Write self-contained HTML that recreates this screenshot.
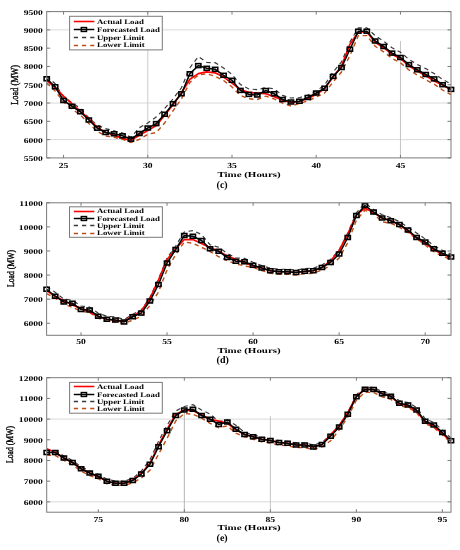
<!DOCTYPE html>
<html><head><meta charset="utf-8"><style>
html,body{margin:0;padding:0;background:#fff;width:460px;height:550px;overflow:hidden}
svg{display:block;text-rendering:geometricPrecision}
.t{font-family:"Liberation Serif",serif;font-weight:bold;font-size:7.3px;fill:#000}
.xl{font-family:"Liberation Serif",serif;font-weight:bold;font-size:7.6px;fill:#000}
.cap{font-family:"Liberation Serif",serif;font-weight:bold;font-size:10px;fill:#000}
.yl{font-family:"Liberation Serif",serif;font-size:8.3px;fill:#000;stroke:#000;stroke-width:0.3px}
.lg{font-family:"Liberation Serif",serif;font-weight:bold;font-size:6.9px;fill:#000}
</style></head><body>
<svg width="460" height="550" viewBox="0 0 460 550">
<rect width="460" height="550" fill="#fff"/>
<line x1="46.7" y1="29.89" x2="451.0" y2="29.89" stroke="#d9d9d9" stroke-width="1"/>
<line x1="46.7" y1="103.04" x2="451.0" y2="103.04" stroke="#d9d9d9" stroke-width="1"/>
<line x1="46.7" y1="139.61" x2="451.0" y2="139.61" stroke="#d9d9d9" stroke-width="1"/>
<line x1="147.78" y1="11.6" x2="147.78" y2="157.9" stroke="#cccccc" stroke-width="1"/>
<line x1="400.46" y1="41" x2="400.46" y2="157.9" stroke="#c4c4c4" stroke-width="1"/>
<polyline points="46.70,76.25 55.12,83.75 63.55,97.00 71.97,102.75 80.39,108.25 88.81,117.80 97.24,125.20 105.66,128.60 114.08,130.80 122.51,133.10 130.93,137.30 139.35,127.70 147.78,123.00 156.20,117.10 164.62,108.45 173.04,98.95 181.47,87.75 189.89,67.75 198.31,56.60 206.74,62.40 215.16,62.70 223.58,68.00 232.00,74.50 240.43,84.50 248.85,89.00 257.27,89.60 265.70,87.60 274.12,88.75 282.54,95.40 290.96,98.00 299.39,97.75 307.81,95.00 316.23,91.00 324.66,85.00 333.08,72.00 341.50,62.00 349.93,42.00 358.35,27.80 366.77,27.80 375.19,35.70 383.62,41.20 392.04,47.80 400.46,52.20 408.89,59.30 417.31,64.50 425.73,68.60 434.15,73.60 442.58,79.40 451.00,84.10" fill="none" stroke="#3a3a3a" stroke-width="1.2" stroke-dasharray="4.4,3.6"/>
<polyline points="46.70,82.85 55.12,90.95 63.55,102.00 71.97,109.05 80.39,115.05 88.81,123.50 97.24,131.30 105.66,136.00 114.08,137.30 122.51,139.30 130.93,142.50 139.35,139.40 147.78,134.25 156.20,132.50 164.62,123.00 173.04,110.75 181.47,98.75 189.89,82.50 198.31,75.00 206.74,73.80 215.16,76.30 223.58,80.50 232.00,87.00 240.43,95.50 248.85,98.80 257.27,99.50 265.70,96.20 274.12,98.95 282.54,103.00 290.96,106.00 299.39,103.50 307.81,101.00 316.23,97.00 324.66,93.00 333.08,82.00 341.50,72.00 349.93,55.60 358.35,35.60 366.77,35.60 375.19,46.30 383.62,51.80 392.04,58.40 400.46,62.80 408.89,69.90 417.31,75.10 425.73,79.80 434.15,84.20 442.58,90.00 451.00,94.70" fill="none" stroke="#bd4c17" stroke-width="1.4" stroke-dasharray="4.4,3.6"/>
<polyline points="46.70,80.25 55.12,87.65 63.55,96.20 71.97,103.95 80.39,111.05 88.81,118.90 97.24,127.40 105.66,132.50 114.08,135.10 122.51,138.50 130.93,140.40 139.35,135.20 147.78,130.50 156.20,125.60 164.62,115.25 173.04,104.75 181.47,92.75 189.89,79.25 198.31,73.60 206.74,71.80 215.16,72.80 223.58,77.10 232.00,83.10 240.43,89.90 248.85,92.40 257.27,93.20 265.70,93.70 274.12,96.65 282.54,100.00 290.96,102.60 299.39,101.50 307.81,98.50 316.23,94.50 324.66,88.50 333.08,77.00 341.50,66.00 349.93,44.30 358.35,32.00 366.77,32.00 375.19,42.20 383.62,47.70 392.04,54.30 400.46,58.70 408.89,65.80 417.31,71.00 425.73,75.70 434.15,80.90 442.58,84.90 451.00,89.80" fill="none" stroke="#ff0000" stroke-width="1.7" stroke-linejoin="round"/>
<polyline points="46.70,78.75 55.12,86.75 63.55,100.50 71.97,106.25 80.39,111.75 88.81,120.00 97.24,128.20 105.66,132.50 114.08,133.80 122.51,135.80 130.93,139.20 139.35,133.50 147.78,128.00 156.20,123.60 164.62,114.25 173.04,103.75 181.47,93.75 189.89,73.75 198.31,65.60 206.74,68.30 215.16,69.30 223.58,75.30 232.00,80.30 240.43,90.40 248.85,94.40 257.27,95.00 265.70,90.50 274.12,93.75 282.54,99.50 290.96,102.00 299.39,101.25 307.81,97.50 316.23,93.00 324.66,88.25 333.08,76.40 341.50,67.50 349.93,49.20 358.35,31.20 366.77,31.20 375.19,41.00 383.62,46.50 392.04,53.10 400.46,57.50 408.89,64.60 417.31,69.80 425.73,74.50 434.15,78.90 442.58,84.70 451.00,89.40" fill="none" stroke="#000" stroke-width="1.55"/>
<rect x="44.10" y="76.80" width="5.2" height="3.9" fill="none" stroke="#000" stroke-width="1.6"/>
<rect x="52.52" y="84.80" width="5.2" height="3.9" fill="none" stroke="#000" stroke-width="1.6"/>
<rect x="60.95" y="98.55" width="5.2" height="3.9" fill="none" stroke="#000" stroke-width="1.6"/>
<rect x="69.37" y="104.30" width="5.2" height="3.9" fill="none" stroke="#000" stroke-width="1.6"/>
<rect x="77.79" y="109.80" width="5.2" height="3.9" fill="none" stroke="#000" stroke-width="1.6"/>
<rect x="86.21" y="118.05" width="5.2" height="3.9" fill="none" stroke="#000" stroke-width="1.6"/>
<rect x="94.64" y="126.25" width="5.2" height="3.9" fill="none" stroke="#000" stroke-width="1.6"/>
<rect x="103.06" y="130.55" width="5.2" height="3.9" fill="none" stroke="#000" stroke-width="1.6"/>
<rect x="111.48" y="131.85" width="5.2" height="3.9" fill="none" stroke="#000" stroke-width="1.6"/>
<rect x="119.91" y="133.85" width="5.2" height="3.9" fill="none" stroke="#000" stroke-width="1.6"/>
<rect x="128.33" y="137.25" width="5.2" height="3.9" fill="none" stroke="#000" stroke-width="1.6"/>
<rect x="136.75" y="131.55" width="5.2" height="3.9" fill="none" stroke="#000" stroke-width="1.6"/>
<rect x="145.18" y="126.05" width="5.2" height="3.9" fill="none" stroke="#000" stroke-width="1.6"/>
<rect x="153.60" y="121.65" width="5.2" height="3.9" fill="none" stroke="#000" stroke-width="1.6"/>
<rect x="162.02" y="112.30" width="5.2" height="3.9" fill="none" stroke="#000" stroke-width="1.6"/>
<rect x="170.44" y="101.80" width="5.2" height="3.9" fill="none" stroke="#000" stroke-width="1.6"/>
<rect x="178.87" y="91.80" width="5.2" height="3.9" fill="none" stroke="#000" stroke-width="1.6"/>
<rect x="187.29" y="71.80" width="5.2" height="3.9" fill="none" stroke="#000" stroke-width="1.6"/>
<rect x="195.71" y="63.65" width="5.2" height="3.9" fill="none" stroke="#000" stroke-width="1.6"/>
<rect x="204.14" y="66.35" width="5.2" height="3.9" fill="none" stroke="#000" stroke-width="1.6"/>
<rect x="212.56" y="67.35" width="5.2" height="3.9" fill="none" stroke="#000" stroke-width="1.6"/>
<rect x="220.98" y="73.35" width="5.2" height="3.9" fill="none" stroke="#000" stroke-width="1.6"/>
<rect x="229.40" y="78.35" width="5.2" height="3.9" fill="none" stroke="#000" stroke-width="1.6"/>
<rect x="237.83" y="88.45" width="5.2" height="3.9" fill="none" stroke="#000" stroke-width="1.6"/>
<rect x="246.25" y="92.45" width="5.2" height="3.9" fill="none" stroke="#000" stroke-width="1.6"/>
<rect x="254.67" y="93.05" width="5.2" height="3.9" fill="none" stroke="#000" stroke-width="1.6"/>
<rect x="263.10" y="88.55" width="5.2" height="3.9" fill="none" stroke="#000" stroke-width="1.6"/>
<rect x="271.52" y="91.80" width="5.2" height="3.9" fill="none" stroke="#000" stroke-width="1.6"/>
<rect x="279.94" y="97.55" width="5.2" height="3.9" fill="none" stroke="#000" stroke-width="1.6"/>
<rect x="288.36" y="100.05" width="5.2" height="3.9" fill="none" stroke="#000" stroke-width="1.6"/>
<rect x="296.79" y="99.30" width="5.2" height="3.9" fill="none" stroke="#000" stroke-width="1.6"/>
<rect x="305.21" y="95.55" width="5.2" height="3.9" fill="none" stroke="#000" stroke-width="1.6"/>
<rect x="313.63" y="91.05" width="5.2" height="3.9" fill="none" stroke="#000" stroke-width="1.6"/>
<rect x="322.06" y="86.30" width="5.2" height="3.9" fill="none" stroke="#000" stroke-width="1.6"/>
<rect x="330.48" y="74.45" width="5.2" height="3.9" fill="none" stroke="#000" stroke-width="1.6"/>
<rect x="338.90" y="65.55" width="5.2" height="3.9" fill="none" stroke="#000" stroke-width="1.6"/>
<rect x="347.32" y="47.25" width="5.2" height="3.9" fill="none" stroke="#000" stroke-width="1.6"/>
<rect x="355.75" y="29.25" width="5.2" height="3.9" fill="none" stroke="#000" stroke-width="1.6"/>
<rect x="364.17" y="29.25" width="5.2" height="3.9" fill="none" stroke="#000" stroke-width="1.6"/>
<rect x="372.59" y="39.05" width="5.2" height="3.9" fill="none" stroke="#000" stroke-width="1.6"/>
<rect x="381.02" y="44.55" width="5.2" height="3.9" fill="none" stroke="#000" stroke-width="1.6"/>
<rect x="389.44" y="51.15" width="5.2" height="3.9" fill="none" stroke="#000" stroke-width="1.6"/>
<rect x="397.86" y="55.55" width="5.2" height="3.9" fill="none" stroke="#000" stroke-width="1.6"/>
<rect x="406.29" y="62.65" width="5.2" height="3.9" fill="none" stroke="#000" stroke-width="1.6"/>
<rect x="414.71" y="67.85" width="5.2" height="3.9" fill="none" stroke="#000" stroke-width="1.6"/>
<rect x="423.13" y="72.55" width="5.2" height="3.9" fill="none" stroke="#000" stroke-width="1.6"/>
<rect x="431.55" y="76.95" width="5.2" height="3.9" fill="none" stroke="#000" stroke-width="1.6"/>
<rect x="439.98" y="82.75" width="5.2" height="3.9" fill="none" stroke="#000" stroke-width="1.6"/>
<rect x="448.40" y="87.45" width="5.2" height="3.9" fill="none" stroke="#000" stroke-width="1.6"/>
<rect x="46.7" y="11.6" width="404.30" height="146.30" fill="none" stroke="#7a7a7a" stroke-width="1"/>
<line x1="46.7" y1="157.90" x2="50.2" y2="157.90" stroke="#7a7a7a"/>
<line x1="451.0" y1="157.90" x2="447.5" y2="157.90" stroke="#7a7a7a"/>
<text transform="translate(42.9 160.90) scale(1.32 1)" text-anchor="end" class="t">5500</text>
<line x1="46.7" y1="139.61" x2="50.2" y2="139.61" stroke="#7a7a7a"/>
<line x1="451.0" y1="139.61" x2="447.5" y2="139.61" stroke="#7a7a7a"/>
<text transform="translate(42.9 142.61) scale(1.32 1)" text-anchor="end" class="t">6000</text>
<line x1="46.7" y1="121.33" x2="50.2" y2="121.33" stroke="#7a7a7a"/>
<line x1="451.0" y1="121.33" x2="447.5" y2="121.33" stroke="#7a7a7a"/>
<text transform="translate(42.9 124.33) scale(1.32 1)" text-anchor="end" class="t">6500</text>
<line x1="46.7" y1="103.04" x2="50.2" y2="103.04" stroke="#7a7a7a"/>
<line x1="451.0" y1="103.04" x2="447.5" y2="103.04" stroke="#7a7a7a"/>
<text transform="translate(42.9 106.04) scale(1.32 1)" text-anchor="end" class="t">7000</text>
<line x1="46.7" y1="84.75" x2="50.2" y2="84.75" stroke="#7a7a7a"/>
<line x1="451.0" y1="84.75" x2="447.5" y2="84.75" stroke="#7a7a7a"/>
<text transform="translate(42.9 87.75) scale(1.32 1)" text-anchor="end" class="t">7500</text>
<line x1="46.7" y1="66.46" x2="50.2" y2="66.46" stroke="#7a7a7a"/>
<line x1="451.0" y1="66.46" x2="447.5" y2="66.46" stroke="#7a7a7a"/>
<text transform="translate(42.9 69.46) scale(1.32 1)" text-anchor="end" class="t">8000</text>
<line x1="46.7" y1="48.17" x2="50.2" y2="48.17" stroke="#7a7a7a"/>
<line x1="451.0" y1="48.17" x2="447.5" y2="48.17" stroke="#7a7a7a"/>
<text transform="translate(42.9 51.17) scale(1.32 1)" text-anchor="end" class="t">8500</text>
<line x1="46.7" y1="29.89" x2="50.2" y2="29.89" stroke="#7a7a7a"/>
<line x1="451.0" y1="29.89" x2="447.5" y2="29.89" stroke="#7a7a7a"/>
<text transform="translate(42.9 32.89) scale(1.32 1)" text-anchor="end" class="t">9000</text>
<line x1="46.7" y1="11.60" x2="50.2" y2="11.60" stroke="#7a7a7a"/>
<line x1="451.0" y1="11.60" x2="447.5" y2="11.60" stroke="#7a7a7a"/>
<text transform="translate(42.9 14.60) scale(1.32 1)" text-anchor="end" class="t">9500</text>
<line x1="63.55" y1="11.6" x2="63.55" y2="14.6" stroke="#7a7a7a"/>
<line x1="63.55" y1="157.9" x2="63.55" y2="154.9" stroke="#7a7a7a"/>
<text transform="translate(63.55 167.95) scale(1.235 1)" text-anchor="middle" class="t" style="font-size:7.8px">25</text>
<line x1="147.78" y1="11.6" x2="147.78" y2="14.6" stroke="#7a7a7a"/>
<line x1="147.78" y1="157.9" x2="147.78" y2="154.9" stroke="#7a7a7a"/>
<text transform="translate(147.78 167.95) scale(1.235 1)" text-anchor="middle" class="t" style="font-size:7.8px">30</text>
<line x1="232.00" y1="11.6" x2="232.00" y2="14.6" stroke="#7a7a7a"/>
<line x1="232.00" y1="157.9" x2="232.00" y2="154.9" stroke="#7a7a7a"/>
<text transform="translate(232.00 167.95) scale(1.235 1)" text-anchor="middle" class="t" style="font-size:7.8px">35</text>
<line x1="316.23" y1="11.6" x2="316.23" y2="14.6" stroke="#7a7a7a"/>
<line x1="316.23" y1="157.9" x2="316.23" y2="154.9" stroke="#7a7a7a"/>
<text transform="translate(316.23 167.95) scale(1.235 1)" text-anchor="middle" class="t" style="font-size:7.8px">40</text>
<line x1="400.46" y1="11.6" x2="400.46" y2="14.6" stroke="#7a7a7a"/>
<line x1="400.46" y1="157.9" x2="400.46" y2="154.9" stroke="#7a7a7a"/>
<text transform="translate(400.46 167.95) scale(1.235 1)" text-anchor="middle" class="t" style="font-size:7.8px">45</text>
<text transform="translate(217.4 177.10) scale(1.44 1)" class="xl">Time (Hours)</text>
<text transform="translate(216.6 187.50)" class="cap">(c)</text>
<text transform="translate(18.40 84.80) rotate(-90) scale(1 1.28)" text-anchor="middle" class="yl" style="font-size:8.3px">Load (MW)</text>
<rect x="69.6" y="16.3" width="92.70" height="33.60" fill="#fff" stroke="#7a7a7a" stroke-width="1"/>
<line x1="73.8" y1="21.5" x2="94.3" y2="21.5" stroke="#ff0000" stroke-width="1.6"/>
<line x1="73.8" y1="29.5" x2="94.3" y2="29.5" stroke="#000" stroke-width="1.5"/>
<rect x="81.30" y="27.55" width="5.2" height="3.9" fill="none" stroke="#000" stroke-width="1.45"/>
<line x1="73.8" y1="37.5" x2="94.5" y2="37.5" stroke="#3a3a3a" stroke-width="1.3" stroke-dasharray="4.2,4"/>
<line x1="73.8" y1="45.5" x2="94.5" y2="45.5" stroke="#bd4c17" stroke-width="1.4" stroke-dasharray="4.2,4"/>
<text transform="translate(97 23.50) scale(1.28 1)" class="lg">Actual Load</text>
<text transform="translate(97 31.50) scale(1.28 1)" class="lg">Forecasted Load</text>
<text transform="translate(97 39.50) scale(1.28 1)" class="lg">Upper Limit</text>
<text transform="translate(97 47.30) scale(1.28 1)" class="lg">Lower Limit</text>
<line x1="46.6" y1="299.16" x2="451.0" y2="299.16" stroke="#d9d9d9" stroke-width="1"/>
<polyline points="46.60,286.25 55.20,292.35 63.81,299.00 72.41,300.25 81.02,306.00 89.62,307.00 98.23,313.25 106.83,316.25 115.43,317.00 124.04,319.50 132.64,314.25 141.25,310.10 149.85,297.50 158.46,279.00 167.06,258.00 175.66,246.00 184.27,232.00 192.87,230.55 201.48,234.50 210.08,244.75 218.69,247.25 227.29,253.50 235.89,257.75 244.50,258.30 253.10,262.30 261.71,265.50 270.31,268.25 278.91,269.25 287.52,269.25 296.12,270.00 304.73,268.75 313.33,268.25 321.94,265.00 330.54,259.50 339.14,249.90 347.75,233.10 356.35,212.80 364.96,203.10 373.56,209.40 382.17,214.70 390.77,217.75 399.37,221.50 407.98,227.30 416.58,233.00 425.19,239.00 433.79,245.75 442.40,250.25 451.00,254.00" fill="none" stroke="#3a3a3a" stroke-width="1.2" stroke-dasharray="4.4,3.6"/>
<polyline points="46.60,293.55 55.20,298.25 63.81,303.90 72.41,307.45 81.02,311.10 89.62,312.50 98.23,318.15 106.83,321.25 115.43,322.00 124.04,323.60 132.64,320.05 141.25,316.30 149.85,305.50 158.46,292.00 167.06,269.90 175.66,254.50 184.27,242.00 192.87,243.25 201.48,247.30 210.08,251.55 218.69,256.75 227.29,260.70 235.89,263.85 244.50,266.00 253.10,267.30 261.71,270.50 270.31,273.25 278.91,274.25 287.52,274.25 296.12,275.00 304.73,273.75 313.33,273.25 321.94,270.00 330.54,265.50 339.14,258.10 347.75,242.70 356.35,220.30 364.96,210.20 373.56,213.90 382.17,221.90 390.77,223.35 399.37,227.10 407.98,232.60 416.58,238.80 425.19,245.00 433.79,251.75 442.40,256.25 451.00,259.50" fill="none" stroke="#bd4c17" stroke-width="1.4" stroke-dasharray="4.4,3.6"/>
<polyline points="46.60,290.85 55.20,296.25 63.81,300.70 72.41,304.85 81.02,308.50 89.62,312.00 98.23,316.25 106.83,319.25 115.43,320.30 124.04,321.10 132.64,316.15 141.25,311.10 149.85,298.50 158.46,280.00 167.06,259.50 175.66,249.00 184.27,239.50 192.87,239.55 201.48,243.50 210.08,247.65 218.69,251.25 227.29,256.10 235.89,259.25 244.50,262.70 253.10,265.90 261.71,268.00 270.31,270.75 278.91,271.75 287.52,271.75 296.12,272.50 304.73,271.25 313.33,270.75 321.94,267.50 330.54,261.00 339.14,250.50 347.75,234.00 356.35,214.50 364.96,208.30 373.56,212.60 382.17,218.00 390.77,220.75 399.37,224.50 407.98,231.20 416.58,238.10 425.19,243.00 433.79,249.75 442.40,254.25 451.00,257.50" fill="none" stroke="#ff0000" stroke-width="1.7" stroke-linejoin="round"/>
<polyline points="46.60,289.25 55.20,296.25 63.81,302.00 72.41,303.25 81.02,309.50 89.62,310.00 98.23,316.25 106.83,319.25 115.43,320.00 124.04,322.00 132.64,316.75 141.25,313.10 149.85,301.00 158.46,284.50 167.06,263.00 175.66,249.50 184.27,235.50 192.87,236.25 201.48,240.50 210.08,248.75 218.69,251.25 227.29,257.50 235.89,261.25 244.50,261.80 253.10,265.30 261.71,268.00 270.31,270.75 278.91,271.75 287.52,271.75 296.12,272.50 304.73,271.25 313.33,270.75 321.94,267.50 330.54,262.50 339.14,254.00 347.75,237.50 356.35,215.50 364.96,205.50 373.56,212.00 382.17,218.00 390.77,220.75 399.37,224.50 407.98,230.00 416.58,237.50 425.19,242.00 433.79,248.75 442.40,253.25 451.00,257.00" fill="none" stroke="#000" stroke-width="1.55"/>
<rect x="44.00" y="287.30" width="5.2" height="3.9" fill="none" stroke="#000" stroke-width="1.6"/>
<rect x="52.60" y="294.30" width="5.2" height="3.9" fill="none" stroke="#000" stroke-width="1.6"/>
<rect x="61.21" y="300.05" width="5.2" height="3.9" fill="none" stroke="#000" stroke-width="1.6"/>
<rect x="69.81" y="301.30" width="5.2" height="3.9" fill="none" stroke="#000" stroke-width="1.6"/>
<rect x="78.42" y="307.55" width="5.2" height="3.9" fill="none" stroke="#000" stroke-width="1.6"/>
<rect x="87.02" y="308.05" width="5.2" height="3.9" fill="none" stroke="#000" stroke-width="1.6"/>
<rect x="95.63" y="314.30" width="5.2" height="3.9" fill="none" stroke="#000" stroke-width="1.6"/>
<rect x="104.23" y="317.30" width="5.2" height="3.9" fill="none" stroke="#000" stroke-width="1.6"/>
<rect x="112.83" y="318.05" width="5.2" height="3.9" fill="none" stroke="#000" stroke-width="1.6"/>
<rect x="121.44" y="320.05" width="5.2" height="3.9" fill="none" stroke="#000" stroke-width="1.6"/>
<rect x="130.04" y="314.80" width="5.2" height="3.9" fill="none" stroke="#000" stroke-width="1.6"/>
<rect x="138.65" y="311.15" width="5.2" height="3.9" fill="none" stroke="#000" stroke-width="1.6"/>
<rect x="147.25" y="299.05" width="5.2" height="3.9" fill="none" stroke="#000" stroke-width="1.6"/>
<rect x="155.86" y="282.55" width="5.2" height="3.9" fill="none" stroke="#000" stroke-width="1.6"/>
<rect x="164.46" y="261.05" width="5.2" height="3.9" fill="none" stroke="#000" stroke-width="1.6"/>
<rect x="173.06" y="247.55" width="5.2" height="3.9" fill="none" stroke="#000" stroke-width="1.6"/>
<rect x="181.67" y="233.55" width="5.2" height="3.9" fill="none" stroke="#000" stroke-width="1.6"/>
<rect x="190.27" y="234.30" width="5.2" height="3.9" fill="none" stroke="#000" stroke-width="1.6"/>
<rect x="198.88" y="238.55" width="5.2" height="3.9" fill="none" stroke="#000" stroke-width="1.6"/>
<rect x="207.48" y="246.80" width="5.2" height="3.9" fill="none" stroke="#000" stroke-width="1.6"/>
<rect x="216.09" y="249.30" width="5.2" height="3.9" fill="none" stroke="#000" stroke-width="1.6"/>
<rect x="224.69" y="255.55" width="5.2" height="3.9" fill="none" stroke="#000" stroke-width="1.6"/>
<rect x="233.29" y="259.30" width="5.2" height="3.9" fill="none" stroke="#000" stroke-width="1.6"/>
<rect x="241.90" y="259.85" width="5.2" height="3.9" fill="none" stroke="#000" stroke-width="1.6"/>
<rect x="250.50" y="263.35" width="5.2" height="3.9" fill="none" stroke="#000" stroke-width="1.6"/>
<rect x="259.11" y="266.05" width="5.2" height="3.9" fill="none" stroke="#000" stroke-width="1.6"/>
<rect x="267.71" y="268.80" width="5.2" height="3.9" fill="none" stroke="#000" stroke-width="1.6"/>
<rect x="276.31" y="269.80" width="5.2" height="3.9" fill="none" stroke="#000" stroke-width="1.6"/>
<rect x="284.92" y="269.80" width="5.2" height="3.9" fill="none" stroke="#000" stroke-width="1.6"/>
<rect x="293.52" y="270.55" width="5.2" height="3.9" fill="none" stroke="#000" stroke-width="1.6"/>
<rect x="302.13" y="269.30" width="5.2" height="3.9" fill="none" stroke="#000" stroke-width="1.6"/>
<rect x="310.73" y="268.80" width="5.2" height="3.9" fill="none" stroke="#000" stroke-width="1.6"/>
<rect x="319.34" y="265.55" width="5.2" height="3.9" fill="none" stroke="#000" stroke-width="1.6"/>
<rect x="327.94" y="260.55" width="5.2" height="3.9" fill="none" stroke="#000" stroke-width="1.6"/>
<rect x="336.54" y="252.05" width="5.2" height="3.9" fill="none" stroke="#000" stroke-width="1.6"/>
<rect x="345.15" y="235.55" width="5.2" height="3.9" fill="none" stroke="#000" stroke-width="1.6"/>
<rect x="353.75" y="213.55" width="5.2" height="3.9" fill="none" stroke="#000" stroke-width="1.6"/>
<rect x="362.36" y="203.55" width="5.2" height="3.9" fill="none" stroke="#000" stroke-width="1.6"/>
<rect x="370.96" y="210.05" width="5.2" height="3.9" fill="none" stroke="#000" stroke-width="1.6"/>
<rect x="379.57" y="216.05" width="5.2" height="3.9" fill="none" stroke="#000" stroke-width="1.6"/>
<rect x="388.17" y="218.80" width="5.2" height="3.9" fill="none" stroke="#000" stroke-width="1.6"/>
<rect x="396.77" y="222.55" width="5.2" height="3.9" fill="none" stroke="#000" stroke-width="1.6"/>
<rect x="405.38" y="228.05" width="5.2" height="3.9" fill="none" stroke="#000" stroke-width="1.6"/>
<rect x="413.98" y="235.55" width="5.2" height="3.9" fill="none" stroke="#000" stroke-width="1.6"/>
<rect x="422.59" y="240.05" width="5.2" height="3.9" fill="none" stroke="#000" stroke-width="1.6"/>
<rect x="431.19" y="246.80" width="5.2" height="3.9" fill="none" stroke="#000" stroke-width="1.6"/>
<rect x="439.80" y="251.30" width="5.2" height="3.9" fill="none" stroke="#000" stroke-width="1.6"/>
<rect x="448.40" y="255.05" width="5.2" height="3.9" fill="none" stroke="#000" stroke-width="1.6"/>
<rect x="46.6" y="202.8" width="404.40" height="132.50" fill="none" stroke="#7a7a7a" stroke-width="1"/>
<line x1="46.6" y1="323.25" x2="50.1" y2="323.25" stroke="#7a7a7a"/>
<line x1="451.0" y1="323.25" x2="447.5" y2="323.25" stroke="#7a7a7a"/>
<text transform="translate(42.9 326.25) scale(1.32 1)" text-anchor="end" class="t">6000</text>
<line x1="46.6" y1="299.16" x2="50.1" y2="299.16" stroke="#7a7a7a"/>
<line x1="451.0" y1="299.16" x2="447.5" y2="299.16" stroke="#7a7a7a"/>
<text transform="translate(42.9 302.16) scale(1.32 1)" text-anchor="end" class="t">7000</text>
<line x1="46.6" y1="275.07" x2="50.1" y2="275.07" stroke="#7a7a7a"/>
<line x1="451.0" y1="275.07" x2="447.5" y2="275.07" stroke="#7a7a7a"/>
<text transform="translate(42.9 278.07) scale(1.32 1)" text-anchor="end" class="t">8000</text>
<line x1="46.6" y1="250.98" x2="50.1" y2="250.98" stroke="#7a7a7a"/>
<line x1="451.0" y1="250.98" x2="447.5" y2="250.98" stroke="#7a7a7a"/>
<text transform="translate(42.9 253.98) scale(1.32 1)" text-anchor="end" class="t">9000</text>
<line x1="46.6" y1="226.89" x2="50.1" y2="226.89" stroke="#7a7a7a"/>
<line x1="451.0" y1="226.89" x2="447.5" y2="226.89" stroke="#7a7a7a"/>
<text transform="translate(42.9 229.89) scale(1.32 1)" text-anchor="end" class="t">10000</text>
<line x1="46.6" y1="202.80" x2="50.1" y2="202.80" stroke="#7a7a7a"/>
<line x1="451.0" y1="202.80" x2="447.5" y2="202.80" stroke="#7a7a7a"/>
<text transform="translate(42.9 205.80) scale(1.32 1)" text-anchor="end" class="t">11000</text>
<line x1="81.02" y1="202.8" x2="81.02" y2="205.8" stroke="#7a7a7a"/>
<line x1="81.02" y1="335.3" x2="81.02" y2="332.3" stroke="#7a7a7a"/>
<text transform="translate(81.02 344.45) scale(1.235 1)" text-anchor="middle" class="t" style="font-size:7.8px">50</text>
<line x1="167.06" y1="202.8" x2="167.06" y2="205.8" stroke="#7a7a7a"/>
<line x1="167.06" y1="335.3" x2="167.06" y2="332.3" stroke="#7a7a7a"/>
<text transform="translate(167.06 344.45) scale(1.235 1)" text-anchor="middle" class="t" style="font-size:7.8px">55</text>
<line x1="253.10" y1="202.8" x2="253.10" y2="205.8" stroke="#7a7a7a"/>
<line x1="253.10" y1="335.3" x2="253.10" y2="332.3" stroke="#7a7a7a"/>
<text transform="translate(253.10 344.45) scale(1.235 1)" text-anchor="middle" class="t" style="font-size:7.8px">60</text>
<line x1="339.14" y1="202.8" x2="339.14" y2="205.8" stroke="#7a7a7a"/>
<line x1="339.14" y1="335.3" x2="339.14" y2="332.3" stroke="#7a7a7a"/>
<text transform="translate(339.14 344.45) scale(1.235 1)" text-anchor="middle" class="t" style="font-size:7.8px">65</text>
<line x1="425.19" y1="202.8" x2="425.19" y2="205.8" stroke="#7a7a7a"/>
<line x1="425.19" y1="335.3" x2="425.19" y2="332.3" stroke="#7a7a7a"/>
<text transform="translate(425.19 344.45) scale(1.235 1)" text-anchor="middle" class="t" style="font-size:7.8px">70</text>
<text transform="translate(217.4 352.90) scale(1.44 1)" class="xl">Time (Hours)</text>
<text transform="translate(216.6 362.80)" class="cap">(d)</text>
<text transform="translate(13.60 268.50) rotate(-90) scale(1 1.28)" text-anchor="middle" class="yl" style="font-size:7.7px">Load (MW)</text>
<rect x="69.5" y="206.8" width="92.90" height="30.50" fill="#fff" stroke="#7a7a7a" stroke-width="1"/>
<line x1="73.8" y1="211.5" x2="94.3" y2="211.5" stroke="#ff0000" stroke-width="1.6"/>
<line x1="73.8" y1="218.5" x2="94.3" y2="218.5" stroke="#000" stroke-width="1.5"/>
<rect x="81.30" y="216.55" width="5.2" height="3.9" fill="none" stroke="#000" stroke-width="1.45"/>
<line x1="73.8" y1="225.5" x2="94.5" y2="225.5" stroke="#3a3a3a" stroke-width="1.3" stroke-dasharray="4.2,4"/>
<line x1="73.8" y1="233.5" x2="94.5" y2="233.5" stroke="#bd4c17" stroke-width="1.4" stroke-dasharray="4.2,4"/>
<text transform="translate(97 213.30) scale(1.28 1)" class="lg">Actual Load</text>
<text transform="translate(97 220.70) scale(1.28 1)" class="lg">Forecasted Load</text>
<text transform="translate(97 228.10) scale(1.28 1)" class="lg">Upper Limit</text>
<text transform="translate(97 235.40) scale(1.28 1)" class="lg">Lower Limit</text>
<line x1="46.7" y1="419.08" x2="451.0" y2="419.08" stroke="#d9d9d9" stroke-width="1"/>
<line x1="46.7" y1="501.85" x2="451.0" y2="501.85" stroke="#d9d9d9" stroke-width="1"/>
<line x1="184.33" y1="410" x2="184.33" y2="512.2" stroke="#b4b4b4" stroke-width="1"/>
<line x1="270.36" y1="416" x2="270.36" y2="512.2" stroke="#c4c4c4" stroke-width="1"/>
<polyline points="46.70,450.50 55.30,450.50 63.90,456.00 72.51,460.50 81.11,466.75 89.71,471.00 98.31,474.25 106.91,479.25 115.52,481.25 124.12,481.25 132.72,478.50 141.32,471.00 149.93,459.75 158.53,441.25 167.13,425.25 175.73,411.00 184.33,406.50 192.94,404.65 201.54,410.00 210.14,414.05 218.74,421.50 227.34,420.00 235.95,425.35 244.55,432.30 253.15,434.85 261.75,437.25 270.36,438.50 278.96,440.50 287.56,441.25 296.16,443.00 304.76,443.00 313.37,445.00 321.97,442.50 330.57,434.75 339.17,425.50 347.77,412.75 356.38,394.75 364.98,387.25 373.58,387.50 382.18,391.75 390.79,394.25 399.39,400.75 407.99,402.50 416.59,407.50 425.19,418.75 433.80,422.50 442.40,430.00 451.00,438.25" fill="none" stroke="#3a3a3a" stroke-width="1.2" stroke-dasharray="4.4,3.6"/>
<polyline points="46.70,455.00 55.30,455.50 63.90,460.50 72.51,465.00 81.11,471.25 89.71,475.50 98.31,478.75 106.91,483.75 115.52,485.25 124.12,485.25 132.72,483.00 141.32,478.00 149.93,470.25 158.53,454.25 167.13,438.25 175.73,421.00 184.33,413.50 192.94,414.25 201.54,418.20 210.14,423.45 218.74,427.70 227.34,425.90 235.95,433.15 244.55,436.90 253.15,439.35 261.75,441.75 270.36,443.00 278.96,445.00 287.56,445.75 296.16,447.50 304.76,447.50 313.37,449.50 321.97,446.80 330.57,440.85 339.17,430.00 347.77,417.25 356.38,400.15 364.98,392.25 373.58,392.50 382.18,396.75 390.79,399.25 399.39,405.75 407.99,407.50 416.59,412.50 425.19,423.75 433.80,427.50 442.40,435.00 451.00,442.75" fill="none" stroke="#bd4c17" stroke-width="1.4" stroke-dasharray="4.4,3.6"/>
<polyline points="46.70,448.80 55.30,452.50 63.90,458.00 72.51,462.50 81.11,468.75 89.71,473.00 98.31,476.85 106.91,481.25 115.52,483.25 124.12,483.25 132.72,480.00 141.32,473.50 149.93,463.25 158.53,445.25 167.13,429.25 175.73,414.50 184.33,410.00 192.94,410.85 201.54,414.80 210.14,419.25 218.74,421.20 227.34,423.30 235.95,429.85 244.55,434.50 253.15,436.75 261.75,439.25 270.36,440.50 278.96,442.50 287.56,443.25 296.16,445.00 304.76,445.00 313.37,447.00 321.97,444.50 330.57,434.75 339.17,425.50 347.77,412.75 356.38,396.25 364.98,389.25 373.58,389.50 382.18,393.75 390.79,396.25 399.39,403.75 407.99,406.00 416.59,411.00 425.19,422.25 433.80,426.00 442.40,433.50 451.00,441.25" fill="none" stroke="#ff0000" stroke-width="1.7" stroke-linejoin="round"/>
<polyline points="46.70,452.50 55.30,452.50 63.90,458.00 72.51,462.50 81.11,468.75 89.71,473.00 98.31,476.25 106.91,481.25 115.52,483.25 124.12,483.25 132.72,480.50 141.32,474.00 149.93,464.25 158.53,446.75 167.13,430.75 175.73,415.50 184.33,410.00 192.94,409.25 201.54,415.50 210.14,419.25 218.74,424.50 227.34,422.00 235.95,429.25 244.55,434.50 253.15,436.75 261.75,439.25 270.36,440.50 278.96,442.50 287.56,443.25 296.16,445.00 304.76,445.00 313.37,447.00 321.97,444.50 330.57,436.25 339.17,427.00 347.77,414.25 356.38,396.75 364.98,389.25 373.58,389.50 382.18,393.75 390.79,396.25 399.39,403.25 407.99,405.00 416.59,410.00 425.19,421.25 433.80,425.00 442.40,432.50 451.00,440.75" fill="none" stroke="#000" stroke-width="1.55"/>
<rect x="44.10" y="450.55" width="5.2" height="3.9" fill="none" stroke="#000" stroke-width="1.6"/>
<rect x="52.70" y="450.55" width="5.2" height="3.9" fill="none" stroke="#000" stroke-width="1.6"/>
<rect x="61.30" y="456.05" width="5.2" height="3.9" fill="none" stroke="#000" stroke-width="1.6"/>
<rect x="69.91" y="460.55" width="5.2" height="3.9" fill="none" stroke="#000" stroke-width="1.6"/>
<rect x="78.51" y="466.80" width="5.2" height="3.9" fill="none" stroke="#000" stroke-width="1.6"/>
<rect x="87.11" y="471.05" width="5.2" height="3.9" fill="none" stroke="#000" stroke-width="1.6"/>
<rect x="95.71" y="474.30" width="5.2" height="3.9" fill="none" stroke="#000" stroke-width="1.6"/>
<rect x="104.31" y="479.30" width="5.2" height="3.9" fill="none" stroke="#000" stroke-width="1.6"/>
<rect x="112.92" y="481.30" width="5.2" height="3.9" fill="none" stroke="#000" stroke-width="1.6"/>
<rect x="121.52" y="481.30" width="5.2" height="3.9" fill="none" stroke="#000" stroke-width="1.6"/>
<rect x="130.12" y="478.55" width="5.2" height="3.9" fill="none" stroke="#000" stroke-width="1.6"/>
<rect x="138.72" y="472.05" width="5.2" height="3.9" fill="none" stroke="#000" stroke-width="1.6"/>
<rect x="147.33" y="462.30" width="5.2" height="3.9" fill="none" stroke="#000" stroke-width="1.6"/>
<rect x="155.93" y="444.80" width="5.2" height="3.9" fill="none" stroke="#000" stroke-width="1.6"/>
<rect x="164.53" y="428.80" width="5.2" height="3.9" fill="none" stroke="#000" stroke-width="1.6"/>
<rect x="173.13" y="413.55" width="5.2" height="3.9" fill="none" stroke="#000" stroke-width="1.6"/>
<rect x="181.73" y="408.05" width="5.2" height="3.9" fill="none" stroke="#000" stroke-width="1.6"/>
<rect x="190.34" y="407.30" width="5.2" height="3.9" fill="none" stroke="#000" stroke-width="1.6"/>
<rect x="198.94" y="413.55" width="5.2" height="3.9" fill="none" stroke="#000" stroke-width="1.6"/>
<rect x="207.54" y="417.30" width="5.2" height="3.9" fill="none" stroke="#000" stroke-width="1.6"/>
<rect x="216.14" y="422.55" width="5.2" height="3.9" fill="none" stroke="#000" stroke-width="1.6"/>
<rect x="224.74" y="420.05" width="5.2" height="3.9" fill="none" stroke="#000" stroke-width="1.6"/>
<rect x="233.35" y="427.30" width="5.2" height="3.9" fill="none" stroke="#000" stroke-width="1.6"/>
<rect x="241.95" y="432.55" width="5.2" height="3.9" fill="none" stroke="#000" stroke-width="1.6"/>
<rect x="250.55" y="434.80" width="5.2" height="3.9" fill="none" stroke="#000" stroke-width="1.6"/>
<rect x="259.15" y="437.30" width="5.2" height="3.9" fill="none" stroke="#000" stroke-width="1.6"/>
<rect x="267.76" y="438.55" width="5.2" height="3.9" fill="none" stroke="#000" stroke-width="1.6"/>
<rect x="276.36" y="440.55" width="5.2" height="3.9" fill="none" stroke="#000" stroke-width="1.6"/>
<rect x="284.96" y="441.30" width="5.2" height="3.9" fill="none" stroke="#000" stroke-width="1.6"/>
<rect x="293.56" y="443.05" width="5.2" height="3.9" fill="none" stroke="#000" stroke-width="1.6"/>
<rect x="302.16" y="443.05" width="5.2" height="3.9" fill="none" stroke="#000" stroke-width="1.6"/>
<rect x="310.77" y="445.05" width="5.2" height="3.9" fill="none" stroke="#000" stroke-width="1.6"/>
<rect x="319.37" y="442.55" width="5.2" height="3.9" fill="none" stroke="#000" stroke-width="1.6"/>
<rect x="327.97" y="434.30" width="5.2" height="3.9" fill="none" stroke="#000" stroke-width="1.6"/>
<rect x="336.57" y="425.05" width="5.2" height="3.9" fill="none" stroke="#000" stroke-width="1.6"/>
<rect x="345.17" y="412.30" width="5.2" height="3.9" fill="none" stroke="#000" stroke-width="1.6"/>
<rect x="353.78" y="394.80" width="5.2" height="3.9" fill="none" stroke="#000" stroke-width="1.6"/>
<rect x="362.38" y="387.30" width="5.2" height="3.9" fill="none" stroke="#000" stroke-width="1.6"/>
<rect x="370.98" y="387.55" width="5.2" height="3.9" fill="none" stroke="#000" stroke-width="1.6"/>
<rect x="379.58" y="391.80" width="5.2" height="3.9" fill="none" stroke="#000" stroke-width="1.6"/>
<rect x="388.19" y="394.30" width="5.2" height="3.9" fill="none" stroke="#000" stroke-width="1.6"/>
<rect x="396.79" y="401.30" width="5.2" height="3.9" fill="none" stroke="#000" stroke-width="1.6"/>
<rect x="405.39" y="403.05" width="5.2" height="3.9" fill="none" stroke="#000" stroke-width="1.6"/>
<rect x="413.99" y="408.05" width="5.2" height="3.9" fill="none" stroke="#000" stroke-width="1.6"/>
<rect x="422.59" y="419.30" width="5.2" height="3.9" fill="none" stroke="#000" stroke-width="1.6"/>
<rect x="431.20" y="423.05" width="5.2" height="3.9" fill="none" stroke="#000" stroke-width="1.6"/>
<rect x="439.80" y="430.55" width="5.2" height="3.9" fill="none" stroke="#000" stroke-width="1.6"/>
<rect x="448.40" y="438.80" width="5.2" height="3.9" fill="none" stroke="#000" stroke-width="1.6"/>
<rect x="46.7" y="377.7" width="404.30" height="134.50" fill="none" stroke="#7a7a7a" stroke-width="1"/>
<line x1="46.7" y1="501.85" x2="50.2" y2="501.85" stroke="#7a7a7a"/>
<line x1="451.0" y1="501.85" x2="447.5" y2="501.85" stroke="#7a7a7a"/>
<text transform="translate(42.9 504.85) scale(1.32 1)" text-anchor="end" class="t">6000</text>
<line x1="46.7" y1="481.16" x2="50.2" y2="481.16" stroke="#7a7a7a"/>
<line x1="451.0" y1="481.16" x2="447.5" y2="481.16" stroke="#7a7a7a"/>
<text transform="translate(42.9 484.16) scale(1.32 1)" text-anchor="end" class="t">7000</text>
<line x1="46.7" y1="460.47" x2="50.2" y2="460.47" stroke="#7a7a7a"/>
<line x1="451.0" y1="460.47" x2="447.5" y2="460.47" stroke="#7a7a7a"/>
<text transform="translate(42.9 463.47) scale(1.32 1)" text-anchor="end" class="t">8000</text>
<line x1="46.7" y1="439.78" x2="50.2" y2="439.78" stroke="#7a7a7a"/>
<line x1="451.0" y1="439.78" x2="447.5" y2="439.78" stroke="#7a7a7a"/>
<text transform="translate(42.9 442.78) scale(1.32 1)" text-anchor="end" class="t">9000</text>
<line x1="46.7" y1="419.08" x2="50.2" y2="419.08" stroke="#7a7a7a"/>
<line x1="451.0" y1="419.08" x2="447.5" y2="419.08" stroke="#7a7a7a"/>
<text transform="translate(42.9 422.08) scale(1.32 1)" text-anchor="end" class="t">10000</text>
<line x1="46.7" y1="398.39" x2="50.2" y2="398.39" stroke="#7a7a7a"/>
<line x1="451.0" y1="398.39" x2="447.5" y2="398.39" stroke="#7a7a7a"/>
<text transform="translate(42.9 401.39) scale(1.32 1)" text-anchor="end" class="t">11000</text>
<line x1="46.7" y1="377.70" x2="50.2" y2="377.70" stroke="#7a7a7a"/>
<line x1="451.0" y1="377.70" x2="447.5" y2="377.70" stroke="#7a7a7a"/>
<text transform="translate(42.9 380.70) scale(1.32 1)" text-anchor="end" class="t">12000</text>
<line x1="98.31" y1="377.7" x2="98.31" y2="380.7" stroke="#7a7a7a"/>
<line x1="98.31" y1="512.2" x2="98.31" y2="509.20000000000005" stroke="#7a7a7a"/>
<text transform="translate(98.31 521.85) scale(1.235 1)" text-anchor="middle" class="t" style="font-size:7.8px">75</text>
<line x1="184.33" y1="377.7" x2="184.33" y2="380.7" stroke="#7a7a7a"/>
<line x1="184.33" y1="512.2" x2="184.33" y2="509.20000000000005" stroke="#7a7a7a"/>
<text transform="translate(184.33 521.85) scale(1.235 1)" text-anchor="middle" class="t" style="font-size:7.8px">80</text>
<line x1="270.36" y1="377.7" x2="270.36" y2="380.7" stroke="#7a7a7a"/>
<line x1="270.36" y1="512.2" x2="270.36" y2="509.20000000000005" stroke="#7a7a7a"/>
<text transform="translate(270.36 521.85) scale(1.235 1)" text-anchor="middle" class="t" style="font-size:7.8px">85</text>
<line x1="356.38" y1="377.7" x2="356.38" y2="380.7" stroke="#7a7a7a"/>
<line x1="356.38" y1="512.2" x2="356.38" y2="509.20000000000005" stroke="#7a7a7a"/>
<text transform="translate(356.38 521.85) scale(1.235 1)" text-anchor="middle" class="t" style="font-size:7.8px">90</text>
<line x1="442.40" y1="377.7" x2="442.40" y2="380.7" stroke="#7a7a7a"/>
<line x1="442.40" y1="512.2" x2="442.40" y2="509.20000000000005" stroke="#7a7a7a"/>
<text transform="translate(442.40 521.85) scale(1.235 1)" text-anchor="middle" class="t" style="font-size:7.8px">95</text>
<text transform="translate(217.4 530.20) scale(1.44 1)" class="xl">Time (Hours)</text>
<text transform="translate(216.6 540.90)" class="cap">(e)</text>
<text transform="translate(13.30 444.50) rotate(-90) scale(1 1.28)" text-anchor="middle" class="yl" style="font-size:7.7px">Load (MW)</text>
<rect x="69.6" y="382.4" width="92.70" height="30.80" fill="#fff" stroke="#7a7a7a" stroke-width="1"/>
<line x1="73.8" y1="386.5" x2="94.3" y2="386.5" stroke="#ff0000" stroke-width="1.6"/>
<line x1="73.8" y1="394.5" x2="94.3" y2="394.5" stroke="#000" stroke-width="1.5"/>
<rect x="81.30" y="392.55" width="5.2" height="3.9" fill="none" stroke="#000" stroke-width="1.45"/>
<line x1="73.8" y1="401.5" x2="94.5" y2="401.5" stroke="#3a3a3a" stroke-width="1.3" stroke-dasharray="4.2,4"/>
<line x1="73.8" y1="408.5" x2="94.5" y2="408.5" stroke="#bd4c17" stroke-width="1.4" stroke-dasharray="4.2,4"/>
<text transform="translate(97 389.20) scale(1.28 1)" class="lg">Actual Load</text>
<text transform="translate(97 396.50) scale(1.28 1)" class="lg">Forecasted Load</text>
<text transform="translate(97 403.80) scale(1.28 1)" class="lg">Upper Limit</text>
<text transform="translate(97 410.90) scale(1.28 1)" class="lg">Lower Limit</text>
</svg>
</body></html>
